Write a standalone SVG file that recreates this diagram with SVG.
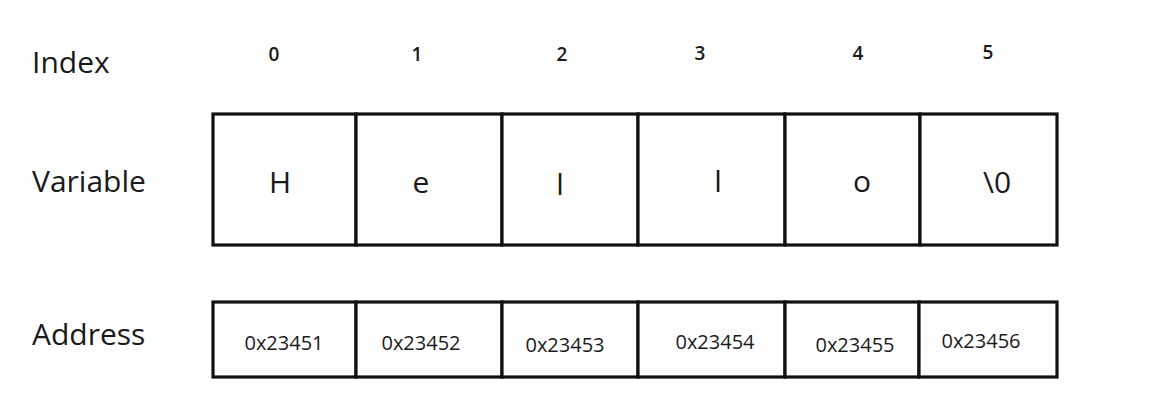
<svg xmlns="http://www.w3.org/2000/svg" width="1156" height="416" viewBox="0 0 1156 416">
  <style>
    .cell { fill: #ffffff; stroke: #111111; stroke-width: 3.2; }
    .label { font-family: "Open Sans", "Liberation Sans", sans-serif; font-size: 30px; font-weight: 500; fill: #1a1a1a; }
    .idx { font-family: "Open Sans", "Liberation Sans", sans-serif; font-size: 19px; font-weight: 600; fill: #1a1a1a; text-anchor: middle; }
    .val { font-family: "Open Sans", "Liberation Sans", sans-serif; font-size: 30px; font-weight: 500; fill: #1a1a1a; text-anchor: middle; }
    .addr { font-family: "Open Sans", "Liberation Sans", sans-serif; font-size: 20px; font-weight: 500; fill: #1a1a1a; text-anchor: middle; }
  </style>
  <rect x="0" y="0" width="1156" height="416" fill="#ffffff"/>

  <g id="labels">
    <text class="label" x="32" y="73">Index</text>
    <text class="label" x="32" y="192">Variable</text>
    <text class="label" x="32" y="345">Address</text>
  </g>

  <g id="indices">
    <text class="idx" x="274" y="61">0</text>
    <text class="idx" x="417" y="61">1</text>
    <text class="idx" x="562" y="61">2</text>
    <text class="idx" x="700" y="60">3</text>
    <text class="idx" x="858" y="60">4</text>
    <text class="idx" x="988" y="59">5</text>
  </g>

  <g id="var0"><rect class="cell" x="213" y="114" width="143" height="131"/><text class="val" x="280" y="193">H</text></g>
  <g id="var1"><rect class="cell" x="356" y="114" width="146" height="131"/><text class="val" x="421" y="193">e</text></g>
  <g id="var2"><rect class="cell" x="502" y="114" width="136" height="131"/><text class="val" x="560" y="195">l</text></g>
  <g id="var3"><rect class="cell" x="638" y="114" width="147" height="131"/><text class="val" x="718" y="192">l</text></g>
  <g id="var4"><rect class="cell" x="785" y="114" width="135" height="131"/><text class="val" x="862" y="192">o</text></g>
  <g id="var5"><rect class="cell" x="920" y="114" width="137" height="131"/><text class="val" x="997" y="193">\0</text></g>

  <g id="addr0"><rect class="cell" x="213" y="302" width="143" height="75"/><text class="addr" x="284" y="350">0x23451</text></g>
  <g id="addr1"><rect class="cell" x="356" y="302" width="146" height="75"/><text class="addr" x="421" y="350">0x23452</text></g>
  <g id="addr2"><rect class="cell" x="502" y="302" width="136" height="75"/><text class="addr" x="565" y="352">0x23453</text></g>
  <g id="addr3"><rect class="cell" x="638" y="302" width="147" height="75"/><text class="addr" x="715" y="349">0x23454</text></g>
  <g id="addr4"><rect class="cell" x="785" y="302" width="134" height="75"/><text class="addr" x="855" y="352">0x23455</text></g>
  <g id="addr5"><rect class="cell" x="919" y="302" width="138" height="75"/><text class="addr" x="981" y="348">0x23456</text></g>

  <g id="connectors"></g>
</svg>
